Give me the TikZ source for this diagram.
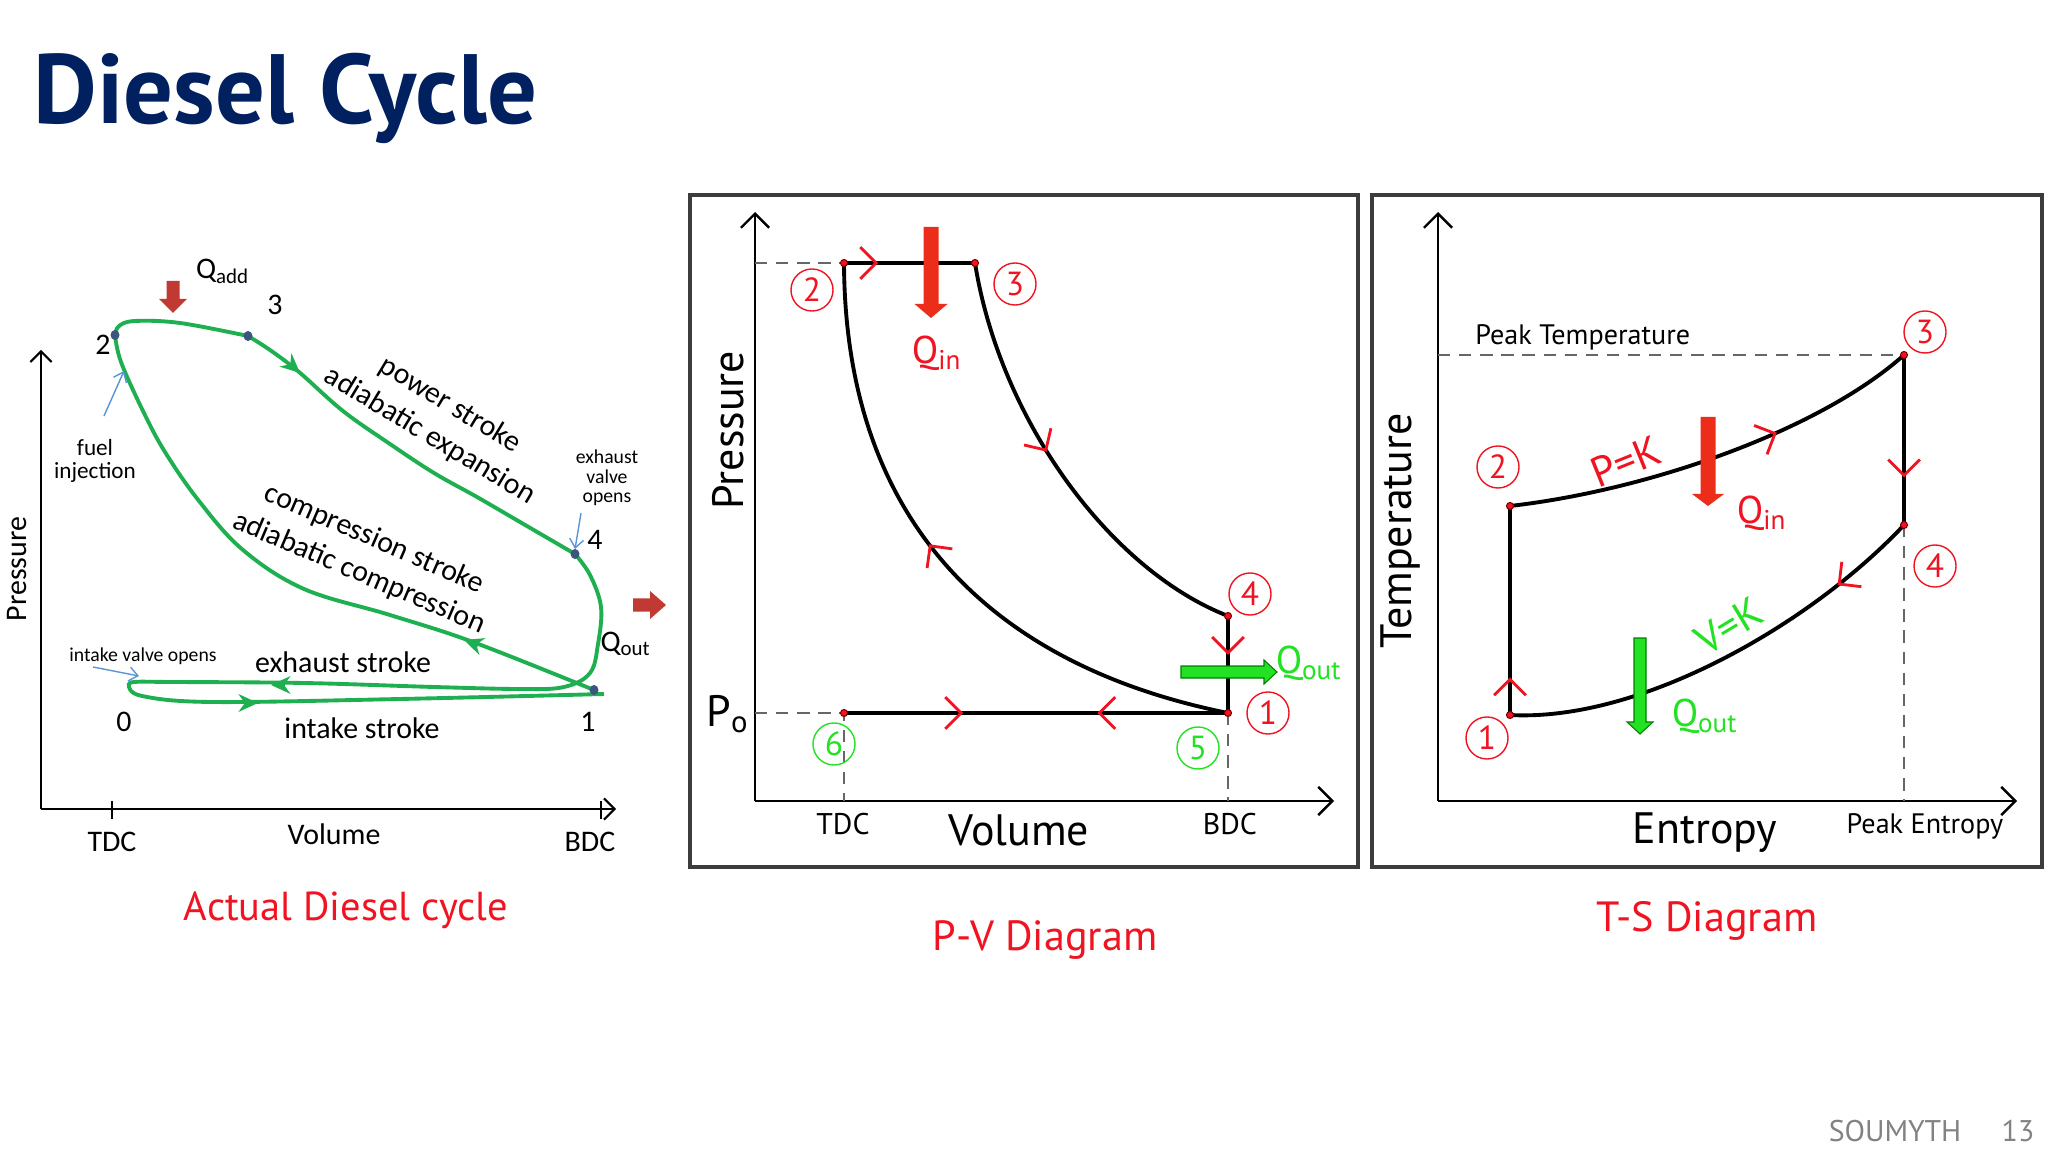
\documentclass[tikz,border=0pt]{standalone}
\usepackage{fontspec}
\setmainfont{PT Sans}
\newfontfamily\calib{Carlito}
\usetikzlibrary{arrows.meta, decorations.markings, calc}
\definecolor{titleblue}{RGB}{0, 32, 96}
\definecolor{pvred}{RGB}{240, 20, 35}
\definecolor{qred}{RGB}{235, 45, 25}
\definecolor{pvgreen}{RGB}{35, 225, 35}
\definecolor{loopgreen}{RGB}{30, 175, 80}
\definecolor{brickred}{RGB}{192, 57, 50}
\definecolor{dotblue}{RGB}{60, 85, 125}
\definecolor{noteblue}{RGB}{90, 150, 215}
\definecolor{framegray}{RGB}{60, 60, 60}
\definecolor{footgray}{RGB}{130, 130, 130}
\newcommand\fsz[1]{\fontsize{#1}{#1}\selectfont}
\tikzset{>=latex,
  axisln/.style={line width=0.7pt, -{Straight Barb[length=4pt,width=8pt]}},
  laxisln/.style={line width=0.6pt, -{Straight Barb[length=3pt,width=6pt]}},
  cyc/.style={line width=1.1pt, black},
  dashln/.style={gray!80!black, line width=0.5pt, dash pattern=on 3.5pt off 2.5pt},
  numcirc/.style={circle, draw=gray!60!black, line width=0.4pt, minimum size=0.42cm, inner sep=0pt, font=\fsz{9.5}},
  chev/.style={postaction={decorate, decoration={markings,
    mark=at position #1 with {\arrow{Straight Barb[length=4.5pt,width=9pt,line width=0.8pt,color=pvred]}}}}},
  rchev/.style={postaction={decorate, decoration={markings,
    mark=at position #1 with {\arrowreversed{Straight Barb[length=4.5pt,width=9pt,line width=0.8pt,color=pvred]}}}}},
  grn/.style={loopgreen, line width=1.1pt},
  gtip/.style={loopgreen, line width=1.1pt, -{Stealth[length=5.5pt,width=5pt]}},
  note/.style={noteblue, line width=0.4pt, -{Straight Barb[length=2.5pt,width=4pt]}},
  slant/.style={inner sep=0pt, rotate=#1}
}

\begin{document}
\begin{tikzpicture}[x=0.01cm, y=-0.01cm]
\useasboundingbox (0,0) rectangle (2048,1152);
\fill[white] (0,0) rectangle (2048,1152);

\node[anchor=base west, inner sep=0pt, text=titleblue, font=\fsz{28}\bfseries] (title) at (33,124) {Diesel Cycle};

% Actual diesel cycle
\coordinate (lO) at (41,809);
\draw[laxisln] (lO) -- (41,350);
\draw[laxisln] (lO) -- (616,809);
\foreach \x in {112,601} \draw[line width=0.6pt] (\x,801) -- (\x,819);
\coordinate (l1) at (594,690);
\coordinate (l2) at (115,335);
\coordinate (l3) at (248,336);
\coordinate (l4) at (575,554);

% green loop
\draw[grn] plot[smooth, tension=0.6] coordinates {(129,686) (142,696) (212,702) (400,699) (604,694)};
\draw[grn] plot[smooth, tension=0.6] coordinates {(594,690) (473,642) (390,615) (304,589) (243,550) (199,501) (165,452) (143,411) (121,362) (115,335)};
\draw[grn] plot[smooth, tension=0.6] coordinates {(115,335) (119,326) (135,321) (180,323) (248,336)};
\draw[grn] plot[smooth, tension=0.6] coordinates {(248,336) (270,350) (299,372) (343,411) (390,444) (434,473) (477,497) (520,522) (575,554)};
\draw[grn] plot[smooth, tension=0.6] coordinates {(575,554) (590,575) (601,607) (598,644) (590,673) (564,687) (520,689) (434,687) (304,683) (173,682) (134,682) (129,686)};
\draw[gtip] (244,703) -- (258,703);
\draw[gtip] (478,645) -- (464,640);
\draw[gtip] (290,364) -- (300,373);
\draw[gtip] (285,685) -- (271,685);
\foreach \p in {l1,l2,l3,l4} \fill[dotblue] (\p) ellipse (4.5 and 5);

% heat arrows
\fill[brickred] (166.5,281) -- (179.5,281) -- (179.5,299) -- (187,299) -- (173,313) -- (159,299) -- (166.5,299) -- cycle;
\fill[brickred] (633,598.5) -- (650,598.5) -- (650,591) -- (666,605) -- (650,619) -- (650,611.5) -- (633,611.5) -- cycle;

\begin{scope}[font=\calib\fsz{8.5}]
\node (lp) at (17,569) [rotate=90] {Pressure};
\node (ltdc) at (112,842) {TDC};
\node (lvol) at (334,834) {Volume};
\node (lbdc) at (590,842) {BDC};
\node (ln2) at (103,345) {2};
\node (ln3) at (275,305) {3};
\node (ln4) at (595,540) {4};
\node (ln1) at (588,722) {1};
\node (ln0) at (124,722) {0};
\node (lqa) at (223,271) {Q\textsubscript{add}};
\node (lqo) at (626,644) {Q\textsubscript{out}};
\node (lpow) at (450,405) [slant=-31] {power stroke};
\node (lexp) at (430,436) [slant=-31] {adiabatic expansion};
\node (lcs) at (374,539) [slant=-23.5] {compression stroke};
\node (lcomp) at (359,573) [slant=-23] {adiabatic compression};
\node (lexh) at (343,662) {exhaust stroke};
\node (lint) at (362,728) {intake stroke};
\end{scope}
\node[font=\calib\fsz{6.6}, align=center, inner sep=0pt] (lfuel) at (95,461) {fuel\\injection};
\node[font=\calib\fsz{5.6}, align=center, inner sep=0pt] (lexv) at (607,478) {exhaust\\valve\\opens};
\node[font=\calib\fsz{5.6}, inner sep=0pt] (linv) at (143,656) {intake valve opens};
\draw[note] (104,416) -- (124,371);
\draw[note] (581,513) -- (575,549);
\draw[note] (93,667) -- (139,676);
\node[pvred, font=\fsz{11.5}] (lcap) at (346,910) {Actual Diesel cycle};

% P-V diagram
\draw[framegray, line width=0.9pt] (690,195) rectangle (1358,867);
\coordinate (pvO) at (755,801);
\draw[axisln] (pvO) -- (755,212);
\draw[axisln] (pvO) -- (1334,801);
\coordinate (pv1) at (1228,713);
\coordinate (pv2) at (844,263);
\coordinate (pv3) at (975,263);
\coordinate (pv4) at (1228,616);
\coordinate (pv6) at (844,713);
\draw[dashln] (pvO |- pv2) -- (pv2);
\draw[dashln] (pvO |- pv6) -- (pv6) -- (pv6 |- pvO);
\draw[dashln] (pv1) -- (pv1 |- pvO);
\draw[cyc, chev=0.26] (pv2) -- (pv3);
\draw[cyc, chev=0.45] (pv3) .. controls (1000,420) and (1110,570) .. (pv4);
\draw[cyc, chev=0.4] (pv4) -- (pv1);
\draw[cyc, chev=0.54] (pv1) .. controls (990,665) and (845,520) .. (pv2);
\draw[cyc, chev=0.31, rchev=0.66] (pv6) -- (pv1);
\foreach \p in {pv1,pv2,pv3,pv4,pv6} \filldraw[fill=pvred, draw=red!50!black, line width=0.3pt] (\p) circle[radius=1pt];
\fill[qred] (923.5,227) -- (938.5,227) -- (938.5,304) -- (947.5,304) -- (931,318) -- (914.5,304) -- (923.5,304) -- cycle;
\filldraw[fill=pvgreen, draw=green!50!black, line width=0.3pt] (1181,666) -- (1264,666) -- (1264,660) -- (1277,672) -- (1264,684) -- (1264,678) -- (1181,678) -- cycle;
\node[numcirc, pvred] (pc2) at (812,290) {2};
\node[numcirc, pvred] (pc3) at (1015,284) {3};
\node[numcirc, pvred] (pc4) at (1250,594) {4};
\node[numcirc, pvred] (pc1) at (1268,713) {1};
\node[numcirc, pvgreen] (pc5) at (1198,748) {5};
\node[numcirc, pvgreen] (pc6) at (834,744) {6};
\node[font=\fsz{12.5}, rotate=90] (pvp) at (728,430) {Pressure};
\node[font=\fsz{12.5}] (pvv) at (1019,830) {Volume};
\node[font=\fsz{8.5}] (pvt) at (843,824) {TDC};
\node[font=\fsz{8.5}] (pvb) at (1230,824) {BDC};
\node[font=\fsz{12.5}] (pvpo) at (728,714) {P\textsubscript{o}};
\node[pvred, font=\fsz{11}] (pvqi) at (937,353) {Q\textsubscript{in}};
\node[pvgreen, font=\fsz{11}] (pvqo) at (1309,663) {Q\textsubscript{out}};
\node[pvred, font=\fsz{12}] (pvcap) at (1045,940) {P-V Diagram};

% T-S diagram
\draw[framegray, line width=0.9pt] (1372,195) rectangle (2042,867);
\coordinate (tsO) at (1438,801);
\draw[axisln] (tsO) -- (1438,212);
\draw[axisln] (tsO) -- (2017,801);
\coordinate (ts1) at (1510,715);
\coordinate (ts2) at (1510,506);
\coordinate (ts3) at (1904,355);
\coordinate (ts4) at (1904,525);
\draw[dashln] (tsO |- ts3) -- (ts3);
\draw[dashln] (ts4) -- (ts4 |- tsO);
\draw[cyc, chev=0.65] (ts2) .. controls (1650,490) and (1820,430) .. (ts3);
\draw[cyc, chev=0.72] (ts3) -- (ts4);
\draw[cyc, chev=0.2] (ts4) .. controls (1810,625) and (1640,722) .. (ts1);
\draw[cyc, chev=0.18] (ts1) -- (ts2);
\foreach \p in {ts1,ts2,ts3,ts4} \filldraw[fill=pvred, draw=red!50!black, line width=0.3pt] (\p) circle[radius=1pt];
\fill[qred] (1700.5,417) -- (1715.5,417) -- (1715.5,494) -- (1724,494) -- (1708,506) -- (1692,494) -- (1700.5,494) -- cycle;
\filldraw[fill=pvgreen, draw=green!50!black, line width=0.3pt] (1634,638) -- (1646,638) -- (1646,722) -- (1653,722) -- (1640,734) -- (1627,722) -- (1634,722) -- cycle;
\node[numcirc, pvred] (tc3) at (1925,332) {3};
\node[numcirc, pvred] (tc2) at (1498,467) {2};
\node[numcirc, pvred] (tc4) at (1935,566) {4};
\node[numcirc, pvred] (tc1) at (1487,738) {1};
\node[font=\fsz{12.5}, rotate=90] (tst) at (1400,531) {Temperature};
\node[font=\fsz{12.5}] (tse) at (1705,833) {Entropy};
\node[font=\fsz{8}, anchor=west] (tspt) at (1463,337) {Peak Temperature};
\node[font=\fsz{8}] (tspe) at (1925,826) {Peak Entropy};
\node[pvred, font=\fsz{12}, slant=22] (tspk) at (1626,461) {P=K};
\node[pvgreen, font=\fsz{12}, slant=31] (tsvk) at (1729,626) {V=K};
\node[pvred, font=\fsz{11}] (tsqi) at (1762,513) {Q\textsubscript{in}};
\node[pvgreen, font=\fsz{11}] (tsqo) at (1705,716) {Q\textsubscript{out}};
\node[pvred, font=\fsz{12}] (tscap) at (1707,921) {T-S Diagram};

% footer
\node[footgray, font=\fsz{8.5}] (foot) at (1895,1131) {SOUMYTH};
\node[footgray, font=\fsz{8.5}] (page) at (2018,1131) {13};
\end{tikzpicture}
\end{document}
